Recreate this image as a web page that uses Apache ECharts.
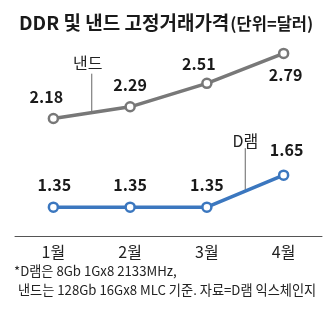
<!DOCTYPE html>
<html><head><meta charset="utf-8">
<script src="https://cdn.jsdelivr.net/npm/echarts@6/dist/echarts.min.js"></script>
<style>html,body{margin:0;padding:0;background:#fff}#c{width:336px;height:332px}</style>
</head><body><div id="c"></div>
<script>
const months = ['1월','2월','3월','4월'];
const nandValues = [2.18, 2.29, 2.51, 2.79];
const dramValues = [1.35, 1.35, 1.35, 1.65];
const nandName = '낸드';
const dramName = 'D램';
const titleMain = 'DDR 및 낸드 고정거래가격';
const titleUnit = '(단위=달러)';
const footLine1 = '*D램은 8Gb 1Gx8 2133MHz,';
const footLine2 = ' 낸드는 128Gb 16Gx8 MLC 기준. 자료=D램 익스체인지';

const FONT = '"Noto Sans CJK KR", "Noto Sans", sans-serif';
const chart = echarts.init(document.getElementById('c'), null, {renderer:'canvas'});

const nandPos = ['top','top','top','bottom'];
const nandOff = [[-7,0],[0,0],[-8,2],[2,0]];
const dramOff = [[1,0],[0,0],[0,0],[3,-3]];

chart.setOption({
  animation:false,
  title:{
    left:14, top:8,
    text:'{a|'+titleMain+'}{b|'+titleUnit+'}',
    textStyle:{rich:{
      a:{fontFamily:FONT,fontSize:19,fontWeight:'bold',color:'#1a1a1a'},
      b:{fontFamily:FONT,fontSize:16.5,color:'#1a1a1a',padding:[2,0,0,1]}
    }}
  },
  grid:{left:15, right:14, top:31, bottom:96},
  xAxis:{
    type:'category', data:months, boundaryGap:true,
    axisLine:{lineStyle:{color:'#555',width:1}},
    axisTick:{alignWithLabel:true, inside:true, length:8, lineStyle:{color:'#555'}},
    axisLabel:{fontFamily:FONT,fontSize:16,color:'#222',margin:8}
  },
  yAxis:{type:'value', min:1.08, max:3.0, show:false, splitLine:{show:false}},
  series:[
    {name:nandName,type:'line',data:nandValues.map((v,i)=>({value:v,label:{position:nandPos[i],offset:nandOff[i]}})),
     lineStyle:{color:'#787878',width:3.5}, itemStyle:{color:'#fff',borderColor:'#787878',borderWidth:2.5},
     symbol:'circle',symbolSize:9,
     label:{show:true,distance:8,fontFamily:FONT,fontSize:16,fontWeight:'bold',color:'#1a1a1a',formatter:p=>p.value.toFixed(2)}},
    {name:dramName,type:'line',data:dramValues.map((v,i)=>({value:v,label:{offset:dramOff[i]}})),
     lineStyle:{color:'#3b77bf',width:3.5}, itemStyle:{color:'#fff',borderColor:'#3b77bf',borderWidth:2.5},
     symbol:'circle',symbolSize:9,
     label:{show:true,position:'top',distance:8,fontFamily:FONT,fontSize:16,fontWeight:'bold',color:'#1a1a1a',formatter:p=>p.value.toFixed(2)}}
  ]
});

function px(i,v){return chart.convertToPixel({gridIndex:0},[i,v]);}
const n0=px(0,nandValues[0]), n1=px(1,nandValues[1]);
const d2=px(2,dramValues[2]), d3=px(3,dramValues[3]);
const nm=[(n0[0]+n1[0])/2,(n0[1]+n1[1])/2];
const dm=[(d2[0]+d3[0])/2,(d2[1]+d3[1])/2];

chart.setOption({graphic:[
  {type:'line',shape:{x1:nm[0],y1:nm[1]-39,x2:nm[0],y2:nm[1]},style:{stroke:'#666',lineWidth:1},silent:true},
  {type:'text',x:nm[0]-4,y:nm[1]-50,style:{text:nandName,fontFamily:FONT,fontSize:16,fill:'#222',align:'center',verticalAlign:'middle'}},
  {type:'line',shape:{x1:dm[0],y1:dm[1]-43,x2:dm[0],y2:dm[1]},style:{stroke:'#666',lineWidth:1},silent:true},
  {type:'text',x:dm[0],y:dm[1]-50,style:{text:dramName,fontFamily:FONT,fontSize:16,fill:'#222',align:'center',verticalAlign:'middle'}},
  {type:'text',left:14,top:264,style:{text:footLine1,fontFamily:FONT,fontSize:13.2,fill:'#222'}},
  {type:'text',left:15,top:283,style:{text:footLine2,fontFamily:FONT,fontSize:13.2,fill:'#222'}}
]});
</script></body></html>
